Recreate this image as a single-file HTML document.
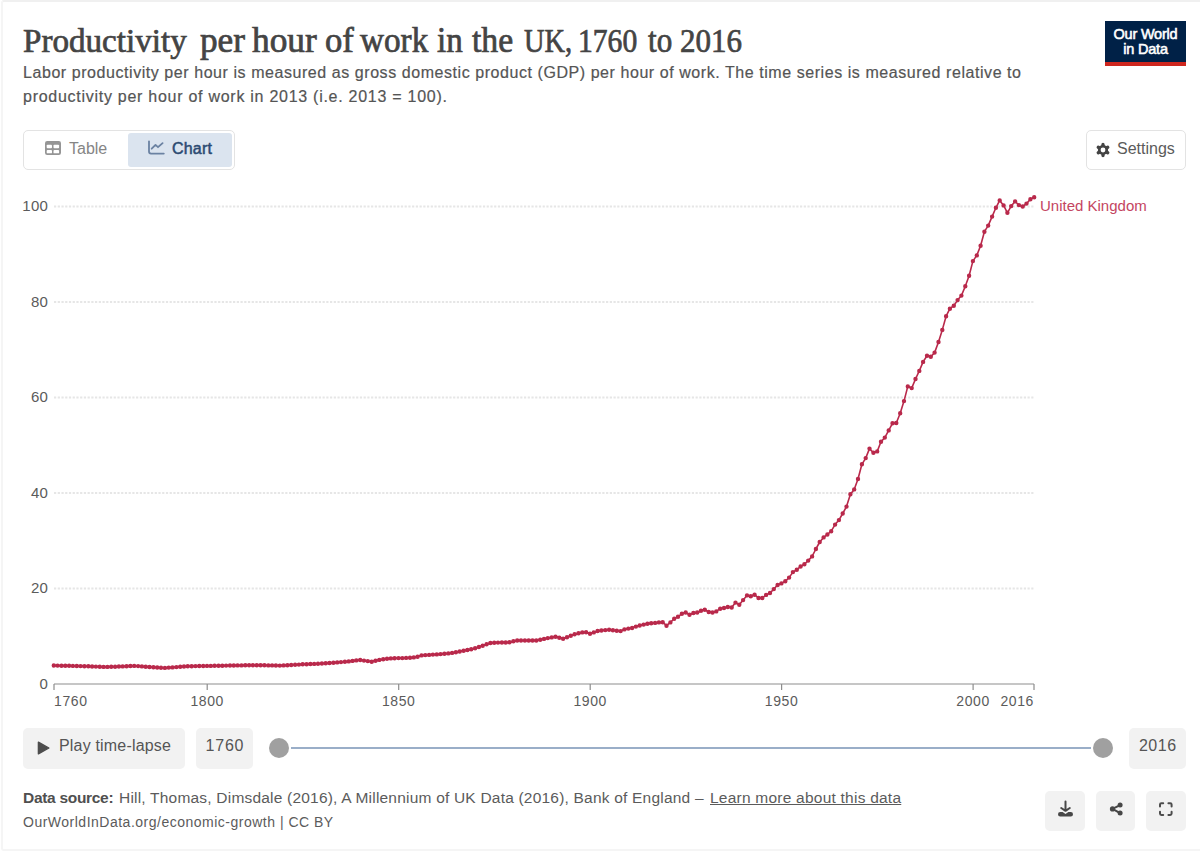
<!DOCTYPE html>
<html><head><meta charset="utf-8">
<style>
*{margin:0;padding:0;box-sizing:border-box}
html,body{width:1200px;height:865px;background:#fff;overflow:hidden;font-family:"Liberation Sans",sans-serif}
.card{position:absolute;left:1px;top:0;width:1300px;height:851px;border:2px solid #f5f5f5;border-top-color:#f0f0f0;border-radius:3px}
.abs{position:absolute;white-space:nowrap}
#title .tw{position:absolute;top:22.7px;white-space:nowrap;transform-origin:0 0;font-family:"Liberation Serif",serif;font-size:32.8px;color:#444;line-height:36px;-webkit-text-stroke:0.7px #444}
.sub{left:23px;font-size:16px;color:#555;line-height:22px;-webkit-text-stroke:0.2px #555}
.tabs{left:23px;top:130px;width:212px;height:40px;border:1px solid #e3e3e3;border-radius:5px}
.tabact{left:128px;top:133px;width:104px;height:34px;background:#dbe4ef;border-radius:3px}
.ft1{top:787.6px;font-size:15.5px;line-height:20px;color:#5b5b5b}
.lbl{font-size:16px;line-height:20px}
.btn{background:#f2f2f2;border-radius:5px}
.logo{left:1105px;top:21.4px;width:81px;height:45px;background:#002147}
.logo .red{position:absolute;left:0;bottom:0;width:81px;height:4px;background:#ce261e}
.logo span{position:absolute;left:0;width:81px;text-align:center;color:#fff;font-size:14.5px;line-height:15px;letter-spacing:-0.2px;-webkit-text-stroke:0.55px #fff}
</style></head><body>
<div class="card"></div>
<div id="title"><span class="tw" style="left:23.3px;transform:scaleX(1.0098)">Productivity</span><span class="tw" style="left:199.8px;transform:scaleX(1.0738) scaleY(1.06);transform-origin:0 29.3px">per</span><span class="tw" style="left:252.0px;transform:scaleX(1.077) scaleY(1.06);transform-origin:0 29.3px">hour</span><span class="tw" style="left:325.44px;transform:scaleX(1.0556) scaleY(1.06);transform-origin:0 29.3px">of</span><span class="tw" style="left:359.75px;transform:scaleX(1.0125) scaleY(1.06);transform-origin:0 29.3px">work</span><span class="tw" style="left:436.5px;transform:scaleX(1.0077) scaleY(1.06);transform-origin:0 29.3px">in</span><span class="tw" style="left:472.2px;transform:scaleX(1.0275) scaleY(1.06);transform-origin:0 29.3px">the</span><span class="tw" style="left:523.7px;transform:scaleX(0.8648)">UK,</span><span class="tw" style="left:578.19px;transform:scaleX(0.9032)">1760</span><span class="tw" style="left:648.0px;transform:scaleX(0.948) scaleY(1.06);transform-origin:0 29.3px">to</span><span class="tw" style="left:680.25px;transform:scaleX(0.9453)">2016</span></div>
<div class="abs sub" style="top:62.3px;letter-spacing:0.56px">Labor productivity per hour is measured as gross domestic product (GDP) per hour of work. The time series is measured relative to</div>
<div class="abs sub" style="top:86px;letter-spacing:0.73px">productivity per hour of work in 2013 (i.e. 2013 = 100).</div>
<div class="abs logo"><span style="top:6px">Our World</span><span style="top:21px">in Data</span><div class="red"></div></div>

<div class="abs tabs"></div>
<div class="abs tabact"></div>
<svg class="abs" style="left:45px;top:140.5px" width="16" height="14" viewBox="0 0 16 14"><rect x="0" y="0" width="16" height="14" rx="2.2" fill="#959595"/><g fill="#fff"><rect x="1.7" y="3.7" width="5.3" height="3.5" rx="0.9"/><rect x="8.5" y="3.7" width="5.6" height="3.5" rx="0.9"/><rect x="1.7" y="9" width="5.3" height="3.3" rx="0.9"/><rect x="8.5" y="9" width="5.6" height="3.3" rx="0.9"/></g></svg>
<div class="abs lbl" style="left:69px;top:139px;color:#858585">Table</div>
<svg class="abs" style="left:148px;top:140px" width="17" height="15" viewBox="0 0 17 15"><path d="M1 1.3V11.6Q1 13.6 3 13.6H15.8" fill="none" stroke="#6b82a2" stroke-width="1.8" stroke-linecap="round"/><path d="M3.7 8.7L7.5 4.9L10 7.2L14.6 3.1" fill="none" stroke="#6b82a2" stroke-width="1.8" stroke-linecap="round" stroke-linejoin="round"/></svg>
<div class="abs lbl" style="left:172px;top:139px;color:#2b4a72;-webkit-text-stroke:0.5px #2b4a72;letter-spacing:0.2px">Chart</div>

<div class="abs" style="left:1086px;top:130px;width:100px;height:40px;border:1px solid #e3e3e3;border-radius:5px"></div>
<svg class="abs" style="left:1095px;top:142.4px" width="16" height="16" viewBox="0 0 16 16"><circle cx="8" cy="8" r="5.1" fill="#444"/><path d="M8.00 4.50L8.00 2.50M11.03 6.25L12.76 5.25M11.03 9.75L12.76 10.75M8.00 11.50L8.00 13.50M4.97 9.75L3.24 10.75M4.97 6.25L3.24 5.25" stroke="#444" stroke-width="3.3" stroke-linecap="round"/><circle cx="8" cy="8" r="2.4" fill="#fff"/></svg>
<div class="abs lbl" style="left:1117px;top:139px;color:#5b5b5b">Settings</div>

<svg class="abs" style="left:0;top:0" width="1200" height="865">
<g stroke="#e6e6e6" stroke-width="1.8" stroke-dasharray="2.2,1.53">
<line x1="54" y1="206.5" x2="1035" y2="206.5"/>
<line x1="54" y1="302" x2="1035" y2="302"/>
<line x1="54" y1="397.5" x2="1035" y2="397.5"/>
<line x1="54" y1="493" x2="1035" y2="493"/>
<line x1="54" y1="588.5" x2="1035" y2="588.5"/>
</g>
<g font-family="Liberation Sans" font-size="15" fill="#5b5b5b" text-anchor="end" letter-spacing="0.2">
<text x="48" y="211">100</text>
<text x="48" y="306.5">80</text>
<text x="48" y="402">60</text>
<text x="48" y="497.5">40</text>
<text x="48" y="593">20</text>
<text x="48" y="689">0</text>
</g>
<path d="M54 684H1034M54 684V690M207.2 684V690M398.7 684V690M590.2 684V690M781.6 684V690M973.1 684V690M1034 684V690" stroke="#8d8d8d" stroke-width="1.2" fill="none"/>
<g font-family="Liberation Sans" font-size="14" fill="#5b5b5b" text-anchor="middle" letter-spacing="0.6">
<text x="54" y="706" text-anchor="start">1760</text>
<text x="207.2" y="706">1800</text>
<text x="398.7" y="706">1850</text>
<text x="590.2" y="706">1900</text>
<text x="781.6" y="706">1950</text>
<text x="973.1" y="706">2000</text>
<text x="1034" y="706" text-anchor="end">2016</text>
</g>
<polyline points="53.8,665.5 57.6,665.6 61.5,665.7 65.3,665.7 69.1,665.8 72.9,665.9 76.8,666.0 80.6,666.1 84.4,666.2 88.3,666.3 92.1,666.5 95.9,666.6 99.8,666.8 103.6,666.9 107.4,666.9 111.2,666.8 115.1,666.7 118.9,666.5 122.7,666.4 126.6,666.2 130.4,666.0 134.2,665.9 138.1,666.1 141.9,666.4 145.7,666.7 149.5,667.0 153.4,667.3 157.2,667.5 161.0,667.8 164.9,667.9 168.7,667.6 172.5,667.4 176.4,667.1 180.2,666.8 184.0,666.5 187.8,666.3 191.7,666.2 195.5,666.1 199.3,666.0 203.2,666.0 207.0,665.9 210.8,665.9 214.6,665.8 218.5,665.8 222.3,665.7 226.1,665.6 230.0,665.5 233.8,665.5 237.6,665.4 241.5,665.4 245.3,665.3 249.1,665.3 252.9,665.3 256.8,665.3 260.6,665.3 264.4,665.3 268.3,665.4 272.1,665.4 275.9,665.5 279.8,665.6 283.6,665.4 287.4,665.2 291.2,665.0 295.1,664.8 298.9,664.6 302.7,664.3 306.6,664.2 310.4,664.0 314.2,663.9 318.0,663.8 321.9,663.5 325.7,663.3 329.5,663.0 333.4,662.7 337.2,662.4 341.0,662.1 344.9,661.8 348.7,661.4 352.5,660.9 356.3,660.4 360.2,660.0 364.0,660.6 367.8,661.1 371.7,661.7 375.5,660.8 379.3,659.9 383.2,659.3 387.0,658.8 390.8,658.4 394.6,658.2 398.5,658.1 402.3,658.1 406.1,657.9 410.0,657.7 413.8,657.4 417.6,656.7 421.5,655.4 425.3,655.1 429.1,654.9 432.9,654.6 436.8,654.4 440.6,654.1 444.4,653.7 448.3,653.4 452.1,652.9 455.9,652.2 459.7,651.5 463.6,650.8 467.4,650.0 471.2,649.3 475.1,648.2 478.9,647.0 482.7,645.7 486.6,644.3 490.4,643.0 494.2,642.8 498.0,642.6 501.9,642.5 505.7,642.5 509.5,642.2 513.4,641.3 517.2,640.5 521.0,640.5 524.9,640.5 528.7,640.5 532.5,640.5 536.3,640.5 540.2,639.8 544.0,638.9 547.8,638.1 551.7,637.4 555.5,636.8 559.3,637.7 563.1,638.7 567.0,637.3 570.8,635.8 574.6,634.3 578.5,633.3 582.3,632.4 586.1,632.2 590.0,633.7 593.8,632.4 597.6,631.0 601.4,630.5 605.3,630.1 609.1,629.8 612.9,630.2 616.8,630.8 620.6,631.1 624.4,629.4 628.3,628.6 632.1,628.0 635.9,626.6 639.7,625.5 643.6,624.6 647.4,623.8 651.2,623.2 655.1,622.9 658.9,622.4 662.7,622.2 666.5,625.7 670.4,622.4 674.2,618.7 678.0,616.8 681.9,613.7 685.7,612.5 689.5,614.7 693.4,613.0 697.2,612.5 701.0,610.7 704.8,609.8 708.7,612.0 712.5,612.5 716.3,611.4 720.2,608.7 724.0,608.0 727.8,607.0 731.7,607.5 735.5,602.6 739.3,604.8 743.1,600.1 747.0,595.4 750.8,596.3 754.6,594.7 758.5,598.0 762.3,598.0 766.1,594.9 770.0,593.0 773.8,589.1 777.6,585.0 781.4,583.4 785.3,581.3 789.1,577.6 792.9,572.1 796.8,569.7 800.6,566.5 804.4,564.3 808.2,560.6 812.1,556.4 815.9,549.0 819.7,542.0 823.6,537.4 827.4,534.5 831.2,531.2 835.1,524.6 838.9,520.1 842.7,513.5 846.5,506.6 850.4,494.2 854.2,489.4 858.0,479.0 861.9,464.3 865.7,458.1 869.5,448.6 873.4,452.8 877.2,451.4 881.0,441.8 884.8,437.6 888.7,430.4 892.5,423.3 896.3,423.0 900.2,413.2 904.0,401.1 907.8,386.4 911.7,388.1 915.5,379.0 919.3,370.9 923.1,361.9 927.0,355.8 930.8,356.7 934.6,352.6 938.5,342.0 942.3,329.9 946.1,316.2 949.9,308.7 953.8,305.7 957.6,300.1 961.4,295.6 965.3,286.2 969.1,275.7 972.9,261.1 976.8,255.4 980.6,245.7 984.4,231.7 988.2,225.6 992.1,216.6 995.9,207.8 999.7,200.4 1003.6,205.4 1007.4,212.8 1011.2,206.1 1015.1,201.4 1018.9,205.1 1022.7,206.5 1026.5,203.6 1030.4,199.3 1034.2,197.3" fill="none" stroke="#b9294b" stroke-width="1.6" stroke-linejoin="round"/>
<path d="M51.6,665.5a2.2,2.2 0 1,0 4.4,0a2.2,2.2 0 1,0 -4.4,0M55.4,665.6a2.2,2.2 0 1,0 4.4,0a2.2,2.2 0 1,0 -4.4,0M59.3,665.7a2.2,2.2 0 1,0 4.4,0a2.2,2.2 0 1,0 -4.4,0M63.1,665.7a2.2,2.2 0 1,0 4.4,0a2.2,2.2 0 1,0 -4.4,0M66.9,665.8a2.2,2.2 0 1,0 4.4,0a2.2,2.2 0 1,0 -4.4,0M70.7,665.9a2.2,2.2 0 1,0 4.4,0a2.2,2.2 0 1,0 -4.4,0M74.6,666.0a2.2,2.2 0 1,0 4.4,0a2.2,2.2 0 1,0 -4.4,0M78.4,666.1a2.2,2.2 0 1,0 4.4,0a2.2,2.2 0 1,0 -4.4,0M82.2,666.2a2.2,2.2 0 1,0 4.4,0a2.2,2.2 0 1,0 -4.4,0M86.1,666.3a2.2,2.2 0 1,0 4.4,0a2.2,2.2 0 1,0 -4.4,0M89.9,666.5a2.2,2.2 0 1,0 4.4,0a2.2,2.2 0 1,0 -4.4,0M93.7,666.6a2.2,2.2 0 1,0 4.4,0a2.2,2.2 0 1,0 -4.4,0M97.6,666.8a2.2,2.2 0 1,0 4.4,0a2.2,2.2 0 1,0 -4.4,0M101.4,666.9a2.2,2.2 0 1,0 4.4,0a2.2,2.2 0 1,0 -4.4,0M105.2,666.9a2.2,2.2 0 1,0 4.4,0a2.2,2.2 0 1,0 -4.4,0M109.0,666.8a2.2,2.2 0 1,0 4.4,0a2.2,2.2 0 1,0 -4.4,0M112.9,666.7a2.2,2.2 0 1,0 4.4,0a2.2,2.2 0 1,0 -4.4,0M116.7,666.5a2.2,2.2 0 1,0 4.4,0a2.2,2.2 0 1,0 -4.4,0M120.5,666.4a2.2,2.2 0 1,0 4.4,0a2.2,2.2 0 1,0 -4.4,0M124.4,666.2a2.2,2.2 0 1,0 4.4,0a2.2,2.2 0 1,0 -4.4,0M128.2,666.0a2.2,2.2 0 1,0 4.4,0a2.2,2.2 0 1,0 -4.4,0M132.0,665.9a2.2,2.2 0 1,0 4.4,0a2.2,2.2 0 1,0 -4.4,0M135.9,666.1a2.2,2.2 0 1,0 4.4,0a2.2,2.2 0 1,0 -4.4,0M139.7,666.4a2.2,2.2 0 1,0 4.4,0a2.2,2.2 0 1,0 -4.4,0M143.5,666.7a2.2,2.2 0 1,0 4.4,0a2.2,2.2 0 1,0 -4.4,0M147.3,667.0a2.2,2.2 0 1,0 4.4,0a2.2,2.2 0 1,0 -4.4,0M151.2,667.3a2.2,2.2 0 1,0 4.4,0a2.2,2.2 0 1,0 -4.4,0M155.0,667.5a2.2,2.2 0 1,0 4.4,0a2.2,2.2 0 1,0 -4.4,0M158.8,667.8a2.2,2.2 0 1,0 4.4,0a2.2,2.2 0 1,0 -4.4,0M162.7,667.9a2.2,2.2 0 1,0 4.4,0a2.2,2.2 0 1,0 -4.4,0M166.5,667.6a2.2,2.2 0 1,0 4.4,0a2.2,2.2 0 1,0 -4.4,0M170.3,667.4a2.2,2.2 0 1,0 4.4,0a2.2,2.2 0 1,0 -4.4,0M174.2,667.1a2.2,2.2 0 1,0 4.4,0a2.2,2.2 0 1,0 -4.4,0M178.0,666.8a2.2,2.2 0 1,0 4.4,0a2.2,2.2 0 1,0 -4.4,0M181.8,666.5a2.2,2.2 0 1,0 4.4,0a2.2,2.2 0 1,0 -4.4,0M185.6,666.3a2.2,2.2 0 1,0 4.4,0a2.2,2.2 0 1,0 -4.4,0M189.5,666.2a2.2,2.2 0 1,0 4.4,0a2.2,2.2 0 1,0 -4.4,0M193.3,666.1a2.2,2.2 0 1,0 4.4,0a2.2,2.2 0 1,0 -4.4,0M197.1,666.0a2.2,2.2 0 1,0 4.4,0a2.2,2.2 0 1,0 -4.4,0M201.0,666.0a2.2,2.2 0 1,0 4.4,0a2.2,2.2 0 1,0 -4.4,0M204.8,665.9a2.2,2.2 0 1,0 4.4,0a2.2,2.2 0 1,0 -4.4,0M208.6,665.9a2.2,2.2 0 1,0 4.4,0a2.2,2.2 0 1,0 -4.4,0M212.4,665.8a2.2,2.2 0 1,0 4.4,0a2.2,2.2 0 1,0 -4.4,0M216.3,665.8a2.2,2.2 0 1,0 4.4,0a2.2,2.2 0 1,0 -4.4,0M220.1,665.7a2.2,2.2 0 1,0 4.4,0a2.2,2.2 0 1,0 -4.4,0M223.9,665.6a2.2,2.2 0 1,0 4.4,0a2.2,2.2 0 1,0 -4.4,0M227.8,665.5a2.2,2.2 0 1,0 4.4,0a2.2,2.2 0 1,0 -4.4,0M231.6,665.5a2.2,2.2 0 1,0 4.4,0a2.2,2.2 0 1,0 -4.4,0M235.4,665.4a2.2,2.2 0 1,0 4.4,0a2.2,2.2 0 1,0 -4.4,0M239.3,665.4a2.2,2.2 0 1,0 4.4,0a2.2,2.2 0 1,0 -4.4,0M243.1,665.3a2.2,2.2 0 1,0 4.4,0a2.2,2.2 0 1,0 -4.4,0M246.9,665.3a2.2,2.2 0 1,0 4.4,0a2.2,2.2 0 1,0 -4.4,0M250.7,665.3a2.2,2.2 0 1,0 4.4,0a2.2,2.2 0 1,0 -4.4,0M254.6,665.3a2.2,2.2 0 1,0 4.4,0a2.2,2.2 0 1,0 -4.4,0M258.4,665.3a2.2,2.2 0 1,0 4.4,0a2.2,2.2 0 1,0 -4.4,0M262.2,665.3a2.2,2.2 0 1,0 4.4,0a2.2,2.2 0 1,0 -4.4,0M266.1,665.4a2.2,2.2 0 1,0 4.4,0a2.2,2.2 0 1,0 -4.4,0M269.9,665.4a2.2,2.2 0 1,0 4.4,0a2.2,2.2 0 1,0 -4.4,0M273.7,665.5a2.2,2.2 0 1,0 4.4,0a2.2,2.2 0 1,0 -4.4,0M277.6,665.6a2.2,2.2 0 1,0 4.4,0a2.2,2.2 0 1,0 -4.4,0M281.4,665.4a2.2,2.2 0 1,0 4.4,0a2.2,2.2 0 1,0 -4.4,0M285.2,665.2a2.2,2.2 0 1,0 4.4,0a2.2,2.2 0 1,0 -4.4,0M289.0,665.0a2.2,2.2 0 1,0 4.4,0a2.2,2.2 0 1,0 -4.4,0M292.9,664.8a2.2,2.2 0 1,0 4.4,0a2.2,2.2 0 1,0 -4.4,0M296.7,664.6a2.2,2.2 0 1,0 4.4,0a2.2,2.2 0 1,0 -4.4,0M300.5,664.3a2.2,2.2 0 1,0 4.4,0a2.2,2.2 0 1,0 -4.4,0M304.4,664.2a2.2,2.2 0 1,0 4.4,0a2.2,2.2 0 1,0 -4.4,0M308.2,664.0a2.2,2.2 0 1,0 4.4,0a2.2,2.2 0 1,0 -4.4,0M312.0,663.9a2.2,2.2 0 1,0 4.4,0a2.2,2.2 0 1,0 -4.4,0M315.8,663.8a2.2,2.2 0 1,0 4.4,0a2.2,2.2 0 1,0 -4.4,0M319.7,663.5a2.2,2.2 0 1,0 4.4,0a2.2,2.2 0 1,0 -4.4,0M323.5,663.3a2.2,2.2 0 1,0 4.4,0a2.2,2.2 0 1,0 -4.4,0M327.3,663.0a2.2,2.2 0 1,0 4.4,0a2.2,2.2 0 1,0 -4.4,0M331.2,662.7a2.2,2.2 0 1,0 4.4,0a2.2,2.2 0 1,0 -4.4,0M335.0,662.4a2.2,2.2 0 1,0 4.4,0a2.2,2.2 0 1,0 -4.4,0M338.8,662.1a2.2,2.2 0 1,0 4.4,0a2.2,2.2 0 1,0 -4.4,0M342.7,661.8a2.2,2.2 0 1,0 4.4,0a2.2,2.2 0 1,0 -4.4,0M346.5,661.4a2.2,2.2 0 1,0 4.4,0a2.2,2.2 0 1,0 -4.4,0M350.3,660.9a2.2,2.2 0 1,0 4.4,0a2.2,2.2 0 1,0 -4.4,0M354.1,660.4a2.2,2.2 0 1,0 4.4,0a2.2,2.2 0 1,0 -4.4,0M358.0,660.0a2.2,2.2 0 1,0 4.4,0a2.2,2.2 0 1,0 -4.4,0M361.8,660.6a2.2,2.2 0 1,0 4.4,0a2.2,2.2 0 1,0 -4.4,0M365.6,661.1a2.2,2.2 0 1,0 4.4,0a2.2,2.2 0 1,0 -4.4,0M369.5,661.7a2.2,2.2 0 1,0 4.4,0a2.2,2.2 0 1,0 -4.4,0M373.3,660.8a2.2,2.2 0 1,0 4.4,0a2.2,2.2 0 1,0 -4.4,0M377.1,659.9a2.2,2.2 0 1,0 4.4,0a2.2,2.2 0 1,0 -4.4,0M381.0,659.3a2.2,2.2 0 1,0 4.4,0a2.2,2.2 0 1,0 -4.4,0M384.8,658.8a2.2,2.2 0 1,0 4.4,0a2.2,2.2 0 1,0 -4.4,0M388.6,658.4a2.2,2.2 0 1,0 4.4,0a2.2,2.2 0 1,0 -4.4,0M392.4,658.2a2.2,2.2 0 1,0 4.4,0a2.2,2.2 0 1,0 -4.4,0M396.3,658.1a2.2,2.2 0 1,0 4.4,0a2.2,2.2 0 1,0 -4.4,0M400.1,658.1a2.2,2.2 0 1,0 4.4,0a2.2,2.2 0 1,0 -4.4,0M403.9,657.9a2.2,2.2 0 1,0 4.4,0a2.2,2.2 0 1,0 -4.4,0M407.8,657.7a2.2,2.2 0 1,0 4.4,0a2.2,2.2 0 1,0 -4.4,0M411.6,657.4a2.2,2.2 0 1,0 4.4,0a2.2,2.2 0 1,0 -4.4,0M415.4,656.7a2.2,2.2 0 1,0 4.4,0a2.2,2.2 0 1,0 -4.4,0M419.3,655.4a2.2,2.2 0 1,0 4.4,0a2.2,2.2 0 1,0 -4.4,0M423.1,655.1a2.2,2.2 0 1,0 4.4,0a2.2,2.2 0 1,0 -4.4,0M426.9,654.9a2.2,2.2 0 1,0 4.4,0a2.2,2.2 0 1,0 -4.4,0M430.7,654.6a2.2,2.2 0 1,0 4.4,0a2.2,2.2 0 1,0 -4.4,0M434.6,654.4a2.2,2.2 0 1,0 4.4,0a2.2,2.2 0 1,0 -4.4,0M438.4,654.1a2.2,2.2 0 1,0 4.4,0a2.2,2.2 0 1,0 -4.4,0M442.2,653.7a2.2,2.2 0 1,0 4.4,0a2.2,2.2 0 1,0 -4.4,0M446.1,653.4a2.2,2.2 0 1,0 4.4,0a2.2,2.2 0 1,0 -4.4,0M449.9,652.9a2.2,2.2 0 1,0 4.4,0a2.2,2.2 0 1,0 -4.4,0M453.7,652.2a2.2,2.2 0 1,0 4.4,0a2.2,2.2 0 1,0 -4.4,0M457.5,651.5a2.2,2.2 0 1,0 4.4,0a2.2,2.2 0 1,0 -4.4,0M461.4,650.8a2.2,2.2 0 1,0 4.4,0a2.2,2.2 0 1,0 -4.4,0M465.2,650.0a2.2,2.2 0 1,0 4.4,0a2.2,2.2 0 1,0 -4.4,0M469.0,649.3a2.2,2.2 0 1,0 4.4,0a2.2,2.2 0 1,0 -4.4,0M472.9,648.2a2.2,2.2 0 1,0 4.4,0a2.2,2.2 0 1,0 -4.4,0M476.7,647.0a2.2,2.2 0 1,0 4.4,0a2.2,2.2 0 1,0 -4.4,0M480.5,645.7a2.2,2.2 0 1,0 4.4,0a2.2,2.2 0 1,0 -4.4,0M484.4,644.3a2.2,2.2 0 1,0 4.4,0a2.2,2.2 0 1,0 -4.4,0M488.2,643.0a2.2,2.2 0 1,0 4.4,0a2.2,2.2 0 1,0 -4.4,0M492.0,642.8a2.2,2.2 0 1,0 4.4,0a2.2,2.2 0 1,0 -4.4,0M495.8,642.6a2.2,2.2 0 1,0 4.4,0a2.2,2.2 0 1,0 -4.4,0M499.7,642.5a2.2,2.2 0 1,0 4.4,0a2.2,2.2 0 1,0 -4.4,0M503.5,642.5a2.2,2.2 0 1,0 4.4,0a2.2,2.2 0 1,0 -4.4,0M507.3,642.2a2.2,2.2 0 1,0 4.4,0a2.2,2.2 0 1,0 -4.4,0M511.2,641.3a2.2,2.2 0 1,0 4.4,0a2.2,2.2 0 1,0 -4.4,0M515.0,640.5a2.2,2.2 0 1,0 4.4,0a2.2,2.2 0 1,0 -4.4,0M518.8,640.5a2.2,2.2 0 1,0 4.4,0a2.2,2.2 0 1,0 -4.4,0M522.7,640.5a2.2,2.2 0 1,0 4.4,0a2.2,2.2 0 1,0 -4.4,0M526.5,640.5a2.2,2.2 0 1,0 4.4,0a2.2,2.2 0 1,0 -4.4,0M530.3,640.5a2.2,2.2 0 1,0 4.4,0a2.2,2.2 0 1,0 -4.4,0M534.1,640.5a2.2,2.2 0 1,0 4.4,0a2.2,2.2 0 1,0 -4.4,0M538.0,639.8a2.2,2.2 0 1,0 4.4,0a2.2,2.2 0 1,0 -4.4,0M541.8,638.9a2.2,2.2 0 1,0 4.4,0a2.2,2.2 0 1,0 -4.4,0M545.6,638.1a2.2,2.2 0 1,0 4.4,0a2.2,2.2 0 1,0 -4.4,0M549.5,637.4a2.2,2.2 0 1,0 4.4,0a2.2,2.2 0 1,0 -4.4,0M553.3,636.8a2.2,2.2 0 1,0 4.4,0a2.2,2.2 0 1,0 -4.4,0M557.1,637.7a2.2,2.2 0 1,0 4.4,0a2.2,2.2 0 1,0 -4.4,0M560.9,638.7a2.2,2.2 0 1,0 4.4,0a2.2,2.2 0 1,0 -4.4,0M564.8,637.3a2.2,2.2 0 1,0 4.4,0a2.2,2.2 0 1,0 -4.4,0M568.6,635.8a2.2,2.2 0 1,0 4.4,0a2.2,2.2 0 1,0 -4.4,0M572.4,634.3a2.2,2.2 0 1,0 4.4,0a2.2,2.2 0 1,0 -4.4,0M576.3,633.3a2.2,2.2 0 1,0 4.4,0a2.2,2.2 0 1,0 -4.4,0M580.1,632.4a2.2,2.2 0 1,0 4.4,0a2.2,2.2 0 1,0 -4.4,0M583.9,632.2a2.2,2.2 0 1,0 4.4,0a2.2,2.2 0 1,0 -4.4,0M587.8,633.7a2.2,2.2 0 1,0 4.4,0a2.2,2.2 0 1,0 -4.4,0M591.6,632.4a2.2,2.2 0 1,0 4.4,0a2.2,2.2 0 1,0 -4.4,0M595.4,631.0a2.2,2.2 0 1,0 4.4,0a2.2,2.2 0 1,0 -4.4,0M599.2,630.5a2.2,2.2 0 1,0 4.4,0a2.2,2.2 0 1,0 -4.4,0M603.1,630.1a2.2,2.2 0 1,0 4.4,0a2.2,2.2 0 1,0 -4.4,0M606.9,629.8a2.2,2.2 0 1,0 4.4,0a2.2,2.2 0 1,0 -4.4,0M610.7,630.2a2.2,2.2 0 1,0 4.4,0a2.2,2.2 0 1,0 -4.4,0M614.6,630.8a2.2,2.2 0 1,0 4.4,0a2.2,2.2 0 1,0 -4.4,0M618.4,631.1a2.2,2.2 0 1,0 4.4,0a2.2,2.2 0 1,0 -4.4,0M622.2,629.4a2.2,2.2 0 1,0 4.4,0a2.2,2.2 0 1,0 -4.4,0M626.1,628.6a2.2,2.2 0 1,0 4.4,0a2.2,2.2 0 1,0 -4.4,0M629.9,628.0a2.2,2.2 0 1,0 4.4,0a2.2,2.2 0 1,0 -4.4,0M633.7,626.6a2.2,2.2 0 1,0 4.4,0a2.2,2.2 0 1,0 -4.4,0M637.5,625.5a2.2,2.2 0 1,0 4.4,0a2.2,2.2 0 1,0 -4.4,0M641.4,624.6a2.2,2.2 0 1,0 4.4,0a2.2,2.2 0 1,0 -4.4,0M645.2,623.8a2.2,2.2 0 1,0 4.4,0a2.2,2.2 0 1,0 -4.4,0M649.0,623.2a2.2,2.2 0 1,0 4.4,0a2.2,2.2 0 1,0 -4.4,0M652.9,622.9a2.2,2.2 0 1,0 4.4,0a2.2,2.2 0 1,0 -4.4,0M656.7,622.4a2.2,2.2 0 1,0 4.4,0a2.2,2.2 0 1,0 -4.4,0M660.5,622.2a2.2,2.2 0 1,0 4.4,0a2.2,2.2 0 1,0 -4.4,0M664.3,625.7a2.2,2.2 0 1,0 4.4,0a2.2,2.2 0 1,0 -4.4,0M668.2,622.4a2.2,2.2 0 1,0 4.4,0a2.2,2.2 0 1,0 -4.4,0M672.0,618.7a2.2,2.2 0 1,0 4.4,0a2.2,2.2 0 1,0 -4.4,0M675.8,616.8a2.2,2.2 0 1,0 4.4,0a2.2,2.2 0 1,0 -4.4,0M679.7,613.7a2.2,2.2 0 1,0 4.4,0a2.2,2.2 0 1,0 -4.4,0M683.5,612.5a2.2,2.2 0 1,0 4.4,0a2.2,2.2 0 1,0 -4.4,0M687.3,614.7a2.2,2.2 0 1,0 4.4,0a2.2,2.2 0 1,0 -4.4,0M691.2,613.0a2.2,2.2 0 1,0 4.4,0a2.2,2.2 0 1,0 -4.4,0M695.0,612.5a2.2,2.2 0 1,0 4.4,0a2.2,2.2 0 1,0 -4.4,0M698.8,610.7a2.2,2.2 0 1,0 4.4,0a2.2,2.2 0 1,0 -4.4,0M702.6,609.8a2.2,2.2 0 1,0 4.4,0a2.2,2.2 0 1,0 -4.4,0M706.5,612.0a2.2,2.2 0 1,0 4.4,0a2.2,2.2 0 1,0 -4.4,0M710.3,612.5a2.2,2.2 0 1,0 4.4,0a2.2,2.2 0 1,0 -4.4,0M714.1,611.4a2.2,2.2 0 1,0 4.4,0a2.2,2.2 0 1,0 -4.4,0M718.0,608.7a2.2,2.2 0 1,0 4.4,0a2.2,2.2 0 1,0 -4.4,0M721.8,608.0a2.2,2.2 0 1,0 4.4,0a2.2,2.2 0 1,0 -4.4,0M725.6,607.0a2.2,2.2 0 1,0 4.4,0a2.2,2.2 0 1,0 -4.4,0M729.5,607.5a2.2,2.2 0 1,0 4.4,0a2.2,2.2 0 1,0 -4.4,0M733.3,602.6a2.2,2.2 0 1,0 4.4,0a2.2,2.2 0 1,0 -4.4,0M737.1,604.8a2.2,2.2 0 1,0 4.4,0a2.2,2.2 0 1,0 -4.4,0M740.9,600.1a2.2,2.2 0 1,0 4.4,0a2.2,2.2 0 1,0 -4.4,0M744.8,595.4a2.2,2.2 0 1,0 4.4,0a2.2,2.2 0 1,0 -4.4,0M748.6,596.3a2.2,2.2 0 1,0 4.4,0a2.2,2.2 0 1,0 -4.4,0M752.4,594.7a2.2,2.2 0 1,0 4.4,0a2.2,2.2 0 1,0 -4.4,0M756.3,598.0a2.2,2.2 0 1,0 4.4,0a2.2,2.2 0 1,0 -4.4,0M760.1,598.0a2.2,2.2 0 1,0 4.4,0a2.2,2.2 0 1,0 -4.4,0M763.9,594.9a2.2,2.2 0 1,0 4.4,0a2.2,2.2 0 1,0 -4.4,0M767.8,593.0a2.2,2.2 0 1,0 4.4,0a2.2,2.2 0 1,0 -4.4,0M771.6,589.1a2.2,2.2 0 1,0 4.4,0a2.2,2.2 0 1,0 -4.4,0M775.4,585.0a2.2,2.2 0 1,0 4.4,0a2.2,2.2 0 1,0 -4.4,0M779.2,583.4a2.2,2.2 0 1,0 4.4,0a2.2,2.2 0 1,0 -4.4,0M783.1,581.3a2.2,2.2 0 1,0 4.4,0a2.2,2.2 0 1,0 -4.4,0M786.9,577.6a2.2,2.2 0 1,0 4.4,0a2.2,2.2 0 1,0 -4.4,0M790.7,572.1a2.2,2.2 0 1,0 4.4,0a2.2,2.2 0 1,0 -4.4,0M794.6,569.7a2.2,2.2 0 1,0 4.4,0a2.2,2.2 0 1,0 -4.4,0M798.4,566.5a2.2,2.2 0 1,0 4.4,0a2.2,2.2 0 1,0 -4.4,0M802.2,564.3a2.2,2.2 0 1,0 4.4,0a2.2,2.2 0 1,0 -4.4,0M806.0,560.6a2.2,2.2 0 1,0 4.4,0a2.2,2.2 0 1,0 -4.4,0M809.9,556.4a2.2,2.2 0 1,0 4.4,0a2.2,2.2 0 1,0 -4.4,0M813.7,549.0a2.2,2.2 0 1,0 4.4,0a2.2,2.2 0 1,0 -4.4,0M817.5,542.0a2.2,2.2 0 1,0 4.4,0a2.2,2.2 0 1,0 -4.4,0M821.4,537.4a2.2,2.2 0 1,0 4.4,0a2.2,2.2 0 1,0 -4.4,0M825.2,534.5a2.2,2.2 0 1,0 4.4,0a2.2,2.2 0 1,0 -4.4,0M829.0,531.2a2.2,2.2 0 1,0 4.4,0a2.2,2.2 0 1,0 -4.4,0M832.9,524.6a2.2,2.2 0 1,0 4.4,0a2.2,2.2 0 1,0 -4.4,0M836.7,520.1a2.2,2.2 0 1,0 4.4,0a2.2,2.2 0 1,0 -4.4,0M840.5,513.5a2.2,2.2 0 1,0 4.4,0a2.2,2.2 0 1,0 -4.4,0M844.3,506.6a2.2,2.2 0 1,0 4.4,0a2.2,2.2 0 1,0 -4.4,0M848.2,494.2a2.2,2.2 0 1,0 4.4,0a2.2,2.2 0 1,0 -4.4,0M852.0,489.4a2.2,2.2 0 1,0 4.4,0a2.2,2.2 0 1,0 -4.4,0M855.8,479.0a2.2,2.2 0 1,0 4.4,0a2.2,2.2 0 1,0 -4.4,0M859.7,464.3a2.2,2.2 0 1,0 4.4,0a2.2,2.2 0 1,0 -4.4,0M863.5,458.1a2.2,2.2 0 1,0 4.4,0a2.2,2.2 0 1,0 -4.4,0M867.3,448.6a2.2,2.2 0 1,0 4.4,0a2.2,2.2 0 1,0 -4.4,0M871.2,452.8a2.2,2.2 0 1,0 4.4,0a2.2,2.2 0 1,0 -4.4,0M875.0,451.4a2.2,2.2 0 1,0 4.4,0a2.2,2.2 0 1,0 -4.4,0M878.8,441.8a2.2,2.2 0 1,0 4.4,0a2.2,2.2 0 1,0 -4.4,0M882.6,437.6a2.2,2.2 0 1,0 4.4,0a2.2,2.2 0 1,0 -4.4,0M886.5,430.4a2.2,2.2 0 1,0 4.4,0a2.2,2.2 0 1,0 -4.4,0M890.3,423.3a2.2,2.2 0 1,0 4.4,0a2.2,2.2 0 1,0 -4.4,0M894.1,423.0a2.2,2.2 0 1,0 4.4,0a2.2,2.2 0 1,0 -4.4,0M898.0,413.2a2.2,2.2 0 1,0 4.4,0a2.2,2.2 0 1,0 -4.4,0M901.8,401.1a2.2,2.2 0 1,0 4.4,0a2.2,2.2 0 1,0 -4.4,0M905.6,386.4a2.2,2.2 0 1,0 4.4,0a2.2,2.2 0 1,0 -4.4,0M909.5,388.1a2.2,2.2 0 1,0 4.4,0a2.2,2.2 0 1,0 -4.4,0M913.3,379.0a2.2,2.2 0 1,0 4.4,0a2.2,2.2 0 1,0 -4.4,0M917.1,370.9a2.2,2.2 0 1,0 4.4,0a2.2,2.2 0 1,0 -4.4,0M920.9,361.9a2.2,2.2 0 1,0 4.4,0a2.2,2.2 0 1,0 -4.4,0M924.8,355.8a2.2,2.2 0 1,0 4.4,0a2.2,2.2 0 1,0 -4.4,0M928.6,356.7a2.2,2.2 0 1,0 4.4,0a2.2,2.2 0 1,0 -4.4,0M932.4,352.6a2.2,2.2 0 1,0 4.4,0a2.2,2.2 0 1,0 -4.4,0M936.3,342.0a2.2,2.2 0 1,0 4.4,0a2.2,2.2 0 1,0 -4.4,0M940.1,329.9a2.2,2.2 0 1,0 4.4,0a2.2,2.2 0 1,0 -4.4,0M943.9,316.2a2.2,2.2 0 1,0 4.4,0a2.2,2.2 0 1,0 -4.4,0M947.7,308.7a2.2,2.2 0 1,0 4.4,0a2.2,2.2 0 1,0 -4.4,0M951.6,305.7a2.2,2.2 0 1,0 4.4,0a2.2,2.2 0 1,0 -4.4,0M955.4,300.1a2.2,2.2 0 1,0 4.4,0a2.2,2.2 0 1,0 -4.4,0M959.2,295.6a2.2,2.2 0 1,0 4.4,0a2.2,2.2 0 1,0 -4.4,0M963.1,286.2a2.2,2.2 0 1,0 4.4,0a2.2,2.2 0 1,0 -4.4,0M966.9,275.7a2.2,2.2 0 1,0 4.4,0a2.2,2.2 0 1,0 -4.4,0M970.7,261.1a2.2,2.2 0 1,0 4.4,0a2.2,2.2 0 1,0 -4.4,0M974.6,255.4a2.2,2.2 0 1,0 4.4,0a2.2,2.2 0 1,0 -4.4,0M978.4,245.7a2.2,2.2 0 1,0 4.4,0a2.2,2.2 0 1,0 -4.4,0M982.2,231.7a2.2,2.2 0 1,0 4.4,0a2.2,2.2 0 1,0 -4.4,0M986.0,225.6a2.2,2.2 0 1,0 4.4,0a2.2,2.2 0 1,0 -4.4,0M989.9,216.6a2.2,2.2 0 1,0 4.4,0a2.2,2.2 0 1,0 -4.4,0M993.7,207.8a2.2,2.2 0 1,0 4.4,0a2.2,2.2 0 1,0 -4.4,0M997.5,200.4a2.2,2.2 0 1,0 4.4,0a2.2,2.2 0 1,0 -4.4,0M1001.4,205.4a2.2,2.2 0 1,0 4.4,0a2.2,2.2 0 1,0 -4.4,0M1005.2,212.8a2.2,2.2 0 1,0 4.4,0a2.2,2.2 0 1,0 -4.4,0M1009.0,206.1a2.2,2.2 0 1,0 4.4,0a2.2,2.2 0 1,0 -4.4,0M1012.9,201.4a2.2,2.2 0 1,0 4.4,0a2.2,2.2 0 1,0 -4.4,0M1016.7,205.1a2.2,2.2 0 1,0 4.4,0a2.2,2.2 0 1,0 -4.4,0M1020.5,206.5a2.2,2.2 0 1,0 4.4,0a2.2,2.2 0 1,0 -4.4,0M1024.3,203.6a2.2,2.2 0 1,0 4.4,0a2.2,2.2 0 1,0 -4.4,0M1028.2,199.3a2.2,2.2 0 1,0 4.4,0a2.2,2.2 0 1,0 -4.4,0M1032.0,197.3a2.2,2.2 0 1,0 4.4,0a2.2,2.2 0 1,0 -4.4,0" fill="#b9294b"/>
<text x="1040" y="211" font-family="Liberation Sans" font-size="15" fill="#c4455f">United Kingdom</text>
</svg>

<div class="abs btn" style="left:23px;top:728px;width:162px;height:41px"></div>
<svg class="abs" style="left:37px;top:741px" width="13" height="14" viewBox="0 0 13 14"><path d="M1.4 1.2L11.9 7L1.4 12.8Z" fill="#4d4d4d" stroke="#4d4d4d" stroke-width="1.4" stroke-linejoin="round"/></svg>
<div class="abs lbl" style="left:59px;top:736px;color:#555;letter-spacing:0.18px">Play time-lapse</div>
<div class="abs btn" style="left:196px;top:728px;width:57px;height:41px"></div>
<div class="abs lbl" style="left:196px;width:57px;text-align:center;top:736px;color:#555;letter-spacing:0.8px;text-indent:0.8px">1760</div>
<div class="abs" style="left:291px;top:747px;width:800px;height:2px;background:#9aaec8"></div>
<div class="abs" style="left:269px;top:738px;width:20px;height:20px;border-radius:50%;background:#a0a0a0"></div>
<div class="abs" style="left:1093px;top:738px;width:20px;height:20px;border-radius:50%;background:#a0a0a0"></div>
<div class="abs btn" style="left:1129px;top:728px;width:57px;height:41px"></div>
<div class="abs lbl" style="left:1129px;width:57px;text-align:center;top:736px;color:#555;letter-spacing:0.5px;text-indent:0.5px">2016</div>

<div class="abs ft1" style="left:23px;font-weight:bold;color:#4f4f4f;letter-spacing:-0.3px">Data source:</div>
<div class="abs ft1" style="left:119px;letter-spacing:0.205px">Hill, Thomas, Dimsdale (2016), A Millennium of UK Data (2016), Bank of England –</div>
<div class="abs ft1" style="left:710px;letter-spacing:0.23px;text-decoration:underline">Learn more about this data</div>
<div class="abs" style="left:23px;top:813px;font-size:14px;letter-spacing:0.5px;line-height:18px;color:#5b5b5b">OurWorldInData.org/economic-growth | CC BY</div>

<div class="abs btn" style="left:1045px;top:791px;width:40px;height:40px"></div>
<div class="abs btn" style="left:1096px;top:791px;width:39px;height:40px"></div>
<div class="abs btn" style="left:1146px;top:791px;width:40px;height:40px"></div>
<svg class="abs" style="left:1057px;top:800px" width="17" height="18" viewBox="0 0 17 18"><path d="M8.5 1.5V10.2M4.2 8L8.5 10.8L12.8 8" fill="none" stroke="#474747" stroke-width="2" stroke-linecap="round" stroke-linejoin="round"/><path d="M3.2 12H5.6L8.5 14L11.4 12H13.8A2.2 2.2 0 0 1 13.8 16.4H3.2A2.2 2.2 0 0 1 3.2 12Z" fill="#474747"/></svg>
<svg class="abs" style="left:1109px;top:802px" width="15" height="15" viewBox="0 0 15 15"><path d="M3.5 6.9L11.1 3.1M3.5 6.9L11.1 11.1" stroke="#474747" stroke-width="2.1"/><circle cx="3.5" cy="6.9" r="2.6" fill="#474747"/><circle cx="11.1" cy="3.1" r="2.5" fill="#474747"/><circle cx="11.1" cy="11.1" r="2.5" fill="#474747"/></svg>
<svg class="abs" style="left:1158px;top:801px" width="16" height="16" viewBox="0 0 16 16"><path d="M2 5.5V3.6Q2 2.2 3.4 2.2H5.2M10.4 2.2H12.2Q13.6 2.2 13.6 3.6V5.5M13.6 10.7V12.6Q13.6 14 12.2 14H10.4M5.2 14H3.4Q2 14 2 12.6V10.7" fill="none" stroke="#4d4d4d" stroke-width="2" stroke-linecap="round"/></svg>
</body></html>
